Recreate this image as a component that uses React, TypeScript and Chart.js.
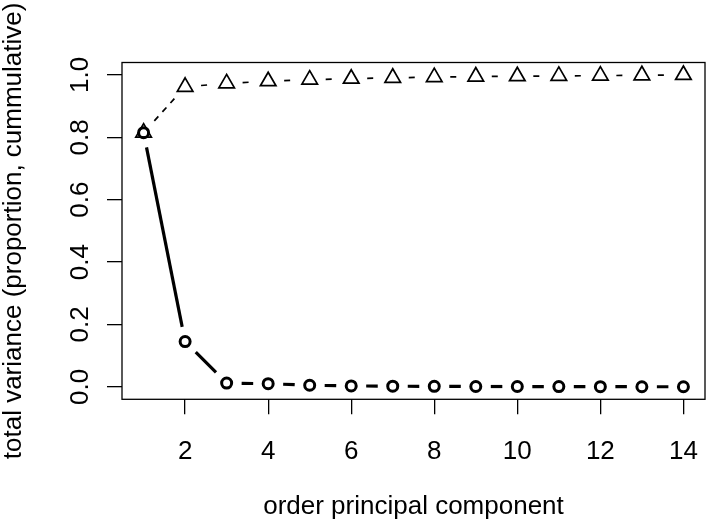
import React, { useEffect, useRef } from "react";
import { Chart, registerables } from "chart.js";

Chart.register(...registerables);

const components = [1, 2, 3, 4, 5, 6, 7, 8, 9, 10, 11, 12, 13, 14];
const proportion = [0.815, 0.145, 0.012, 0.01, 0.005, 0.003, 0.002, 0.0015, 0.001, 0.001, 0.0008, 0.0005, 0.0003, 0.0002];
const cumulative = [0.815, 0.962, 0.973, 0.98, 0.985, 0.988, 0.991, 0.993, 0.995, 0.996, 0.997, 0.998, 0.999, 1.0];
const xTicks = [2, 4, 6, 8, 10, 12, 14];
const yTicks = [0, 0.2, 0.4, 0.6, 0.8, 1.0];
const yTickLabels = ["0.0", "0.2", "0.4", "0.6", "0.8", "1.0"];
const xTitle = "order principal component";
const yTitle = "total variance (proportion, cummulative)";

const FONT = '"Liberation Sans", Arial, Helvetica, sans-serif';
const FONT_SIZE = 26;

function segLen(ctx: any) {
  const dx = ctx.p1.x - ctx.p0.x;
  const dy = ctx.p1.y - ctx.p0.y;
  return Math.sqrt(dx * dx + dy * dy);
}

// solid line with gaps around points (R type="b")
function solidGapDash(gap: number) {
  return (ctx: any) => {
    const L = segLen(ctx);
    const on = Math.max(0, L - 2 * gap);
    return [0, gap, on, 100000];
  };
}

// dashed line with gaps around points; dash restarts at every segment
function dashedGapDash(gap: number, dash: number, space: number) {
  return (ctx: any) => {
    const L = segLen(ctx);
    const end = L - gap;
    const arr: number[] = [0, gap];
    let pos = gap;
    while (pos < end) {
      const on = Math.min(dash, end - pos);
      arr.push(on);
      pos += on;
      arr.push(space);
      pos += space;
    }
    arr[arr.length - 1] = 100000;
    return arr;
  };
}

const rAxesPlugin = {
  id: "rAxes",
  afterDraw(chart: any) {
    const { ctx, chartArea } = chart;
    const xs = chart.scales.x;
    const ys = chart.scales.y;
    ctx.save();
    ctx.strokeStyle = "#000";
    ctx.lineWidth = 1.3;
    ctx.strokeRect(chartArea.left, chartArea.top, chartArea.right - chartArea.left, chartArea.bottom - chartArea.top);

    ctx.fillStyle = "#000";
    ctx.font = `${FONT_SIZE}px ${FONT}`;
    ctx.textAlign = "center";
    ctx.textBaseline = "alphabetic";
    xTicks.forEach((v) => {
      ctx.fillText(String(v), xs.getPixelForValue(v), chartArea.bottom + 60);
    });
    yTicks.forEach((v, i) => {
      ctx.save();
      ctx.translate(chartArea.left - 34.5, ys.getPixelForValue(v));
      ctx.rotate(-Math.PI / 2);
      ctx.fillText(yTickLabels[i], 0, 0);
      ctx.restore();
    });
    ctx.fillText(xTitle, (chartArea.left + chartArea.right) / 2, chartArea.bottom + 114.7);
    ctx.save();
    ctx.translate(20.5, (chartArea.top + chartArea.bottom) / 2);
    ctx.rotate(-Math.PI / 2);
    ctx.fillText(yTitle, 0, 0);
    ctx.restore();
    ctx.restore();
  },
};

export default function App() {
  const canvasRef = useRef<HTMLCanvasElement | null>(null);

  useEffect(() => {
    if (!canvasRef.current) return;
    const propData = components.map((c, i) => ({ x: c, y: proportion[i] }));
    const cumData = components.map((c, i) => ({ x: c, y: cumulative[i] }));
    const chart = new Chart(canvasRef.current, {
      type: "line",
      data: {
        datasets: [
          {
            label: "proportion",
            data: propData,
            borderColor: "#000",
            borderWidth: 3.2,
            tension: 0,
            pointStyle: "circle",
            pointRadius: 5,
            pointBorderWidth: 3,
            pointBorderColor: "#000",
            pointBackgroundColor: "rgba(0,0,0,0)",
            clip: false as any,
            segment: {
              borderDash: solidGapDash(15),
              borderDashOffset: (ctx: any) => ctx.p0DataIndex * 1e-6,
            },
          },
          {
            label: "cumulative",
            data: cumData,
            borderColor: "#000",
            borderWidth: 1.7,
            tension: 0,
            pointStyle: "triangle",
            pointRadius: 9,
            pointBorderWidth: 1.7,
            pointBorderColor: "#000",
            pointBackgroundColor: "rgba(0,0,0,0)",
            clip: false as any,
            segment: {
              borderDash: dashedGapDash(16, 6, 6),
              borderDashOffset: (ctx: any) => ctx.p0DataIndex * 1e-6,
            },
          },
        ],
      },
      options: {
        animation: false,
        responsive: true,
        maintainAspectRatio: false,
        layout: { autoPadding: false, padding: { left: 0, top: 62.5, right: 6, bottom: 0 } },
        plugins: { legend: { display: false }, tooltip: { enabled: false } },
        scales: {
          x: {
            type: "linear",
            position: "bottom",
            min: 0.48,
            max: 14.52,
            afterBuildTicks: (s: any) => {
              s.ticks = xTicks.map((v) => ({ value: v }));
            },
            afterFit: (s: any) => {
              s.height = 124.7;
            },
            ticks: { display: false },
            grid: {
              display: true,
              drawOnChartArea: false,
              drawTicks: true,
              tickLength: 15,
              color: "#000",
              lineWidth: 1.3,
            },
            border: { display: false },
          },
          y: {
            type: "linear",
            position: "left",
            min: -0.04,
            max: 1.04,
            afterBuildTicks: (s: any) => {
              s.ticks = yTicks.map((v) => ({ value: v }));
            },
            afterFit: (s: any) => {
              s.width = 122;
            },
            ticks: { display: false },
            grid: {
              display: true,
              drawOnChartArea: false,
              drawTicks: true,
              tickLength: 15,
              color: "#000",
              lineWidth: 1.3,
            },
            border: { display: false },
          },
        },
      },
      plugins: [rAxesPlugin],
    });
    return () => chart.destroy();
  }, []);

  return (
    <div style={{ position: "fixed", left: 0, top: 0, width: 711, height: 524, background: "#fff" }}>
      <canvas ref={canvasRef} />
    </div>
  );
}
